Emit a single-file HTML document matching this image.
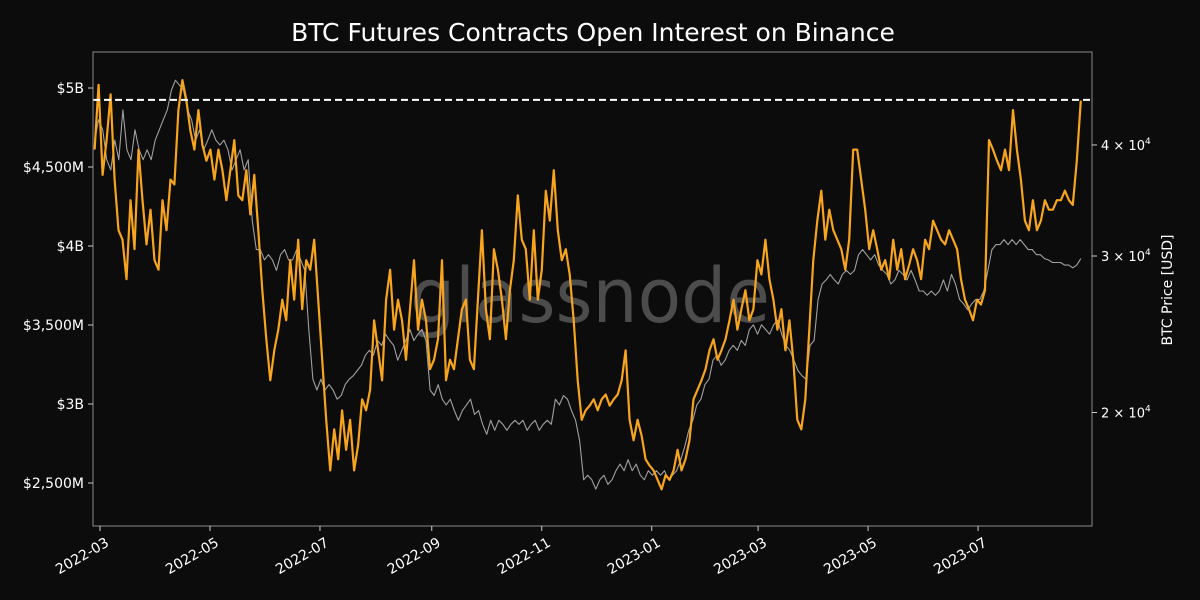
<!DOCTYPE html>
<html><head><meta charset="utf-8">
<style>
html,body{margin:0;padding:0;background:#0c0c0c;}
svg{display:block;font-family:"DejaVu Sans","Liberation Sans",sans-serif;}
</style></head>
<body>
<svg id="chart" width="1200" height="600" viewBox="0 0 1200 600" xmlns="http://www.w3.org/2000/svg">
<rect width="1200" height="600" fill="#0c0c0c"/>
<text x="593" y="41" fill="#ffffff" font-size="25" text-anchor="middle">BTC Futures Contracts Open Interest on Binance</text>
<text x="590" y="322" fill="#4c4c4c" font-size="76" text-anchor="middle" textLength="360" lengthAdjust="spacingAndGlyphs">glassnode</text>
<g id="layer"></g>
<rect x="93" y="52" width="999" height="474" fill="none" stroke="#8a8a8a" stroke-width="1"/>
<text transform="translate(1172,290) rotate(-90)" fill="#ffffff" font-size="14" text-anchor="middle">BTC Price [USD]</text>
</svg>
<script>
const startDate = '2022-02-26';
const endDate = '2023-08-27';
const oiValues = [4610,5020,4450,4670,4960,4420,4100,4040,3790,4290,3980,4610,4290,4010,4230,3910,3850,4290,4100,4420,4390,4860,5050,4920,4730,4610,4860,4640,4540,4610,4420,4610,4480,4290,4480,4670,4320,4290,4480,4200,4450,4100,3720,3410,3150,3340,3470,3660,3530,3910,3660,4040,3600,3910,3850,4040,3660,3280,2900,2580,2840,2650,2960,2710,2900,2580,2740,3030,2960,3090,3530,3340,3150,3660,3850,3470,3660,3530,3280,3600,3910,3470,3660,3530,3220,3280,3410,3910,3150,3280,3220,3410,3600,3660,3280,3220,3660,4100,3600,3410,3980,3850,3660,3410,3720,3910,4320,4040,3980,3660,4100,3660,3850,4350,4160,4480,4100,3910,3980,3820,3530,3150,2900,2960,2990,3030,2960,3030,3060,2990,3030,3060,3150,3340,2900,2770,2900,2800,2650,2610,2580,2520,2460,2550,2520,2580,2710,2580,2650,2770,3030,3090,3150,3220,3340,3410,3280,3340,3410,3530,3660,3470,3600,3720,3530,3600,3910,3820,4040,3790,3660,3470,3600,3340,3530,3280,2900,2840,3030,3470,3910,4160,4350,4040,4230,4100,4040,3980,3850,4040,4610,4610,4420,4230,3980,4100,3980,3850,3910,3790,4040,3850,3980,3790,3880,3980,3910,3790,4040,3980,4160,4100,4040,4010,4100,4040,3980,3790,3660,3600,3530,3660,3630,3720,4670,4610,4540,4480,4610,4480,4860,4610,4420,4160,4100,4290,4100,4160,4290,4230,4230,4290,4290,4350,4290,4260,4540,4920];
const priceValues = [40500,42700,41600,38500,37500,40500,38500,43800,39500,38500,41600,39500,38500,39500,38500,40500,41600,42700,43800,46100,47300,46700,46100,43800,42700,40500,41600,39500,40500,41600,40500,40000,40500,39500,37500,38500,39500,37500,38500,32900,30500,30500,29700,30100,29700,28900,30100,30500,29700,29700,30500,29700,28900,24800,21800,21200,21800,21200,21500,21200,20700,20900,21500,21800,22000,22300,22600,23200,23500,23200,24100,23800,24500,24100,23800,22900,23500,24100,24800,24100,24500,24800,24100,21200,20900,21500,20700,20400,20700,20100,19600,20100,20400,20700,19900,20100,19400,18900,19600,19100,19600,19400,19100,19400,19600,19400,19600,19100,19400,19600,19100,19400,19600,19400,20700,20400,20900,20700,20100,19600,18600,16800,17000,16800,16400,16800,17000,16600,16800,17200,17500,17200,17700,17200,17500,17000,16800,17200,17000,17200,17000,17200,16800,17000,17200,17700,18300,19100,19600,20400,20700,21500,21800,22900,23200,22600,22900,23500,23800,23500,24100,23800,24800,25100,24500,25100,24800,24500,25100,25400,24500,23800,23500,22900,22300,22000,21800,23800,24100,26800,27900,28200,28600,28200,27900,28600,28900,28600,28900,30100,30500,30100,29700,30100,29300,28900,28600,27900,28200,28900,28600,28200,28900,28200,27400,27400,27100,27400,27100,27400,28200,27400,28600,27900,26800,26500,26100,26500,26800,26800,27400,28900,30500,30900,30900,31300,30900,31300,30900,31300,30900,30500,30500,30100,30100,29800,29700,29500,29500,29500,29300,29300,29100,29300,29800];
const leftTickValues = [5000,4500,4000,3500,3000,2500];
const leftTickLabels = ['$5B','$4,500M','$4B','$3,500M','$3B','$2,500M'];
const rightTickValues = [40000,30000,20000];
const rightTickMant = ['4','3','2'];
const xTickDates = ['2022-03-01','2022-05-01','2022-07-01','2022-09-01','2022-11-01','2023-01-01','2023-03-01','2023-05-01','2023-07-01'];
const xTickLabels = ['2022-03','2022-05','2022-07','2022-09','2022-11','2023-01','2023-03','2023-05','2023-07'];
const athValue = 4925;

const NS='http://www.w3.org/2000/svg';
const DAY=86400000;
const t0=Date.parse('2022-03-01');
function xDate(ms){return 100+(ms-t0)/DAY*1.803;}
function yOI(v){return 88+(5000-v)/500*79;}
function yPrice(p){return 256-386*Math.log(p/30000);}
const layer=document.getElementById('layer');
const svg=document.getElementById('chart');
function mk(tag,attrs,parent){const e=document.createElementNS(NS,tag);for(const k in attrs)e.setAttribute(k,attrs[k]);(parent||layer).appendChild(e);return e;}
function seriesPath(vals,yf){
  const s=Date.parse(startDate),e=Date.parse(endDate);
  return vals.map((v,i)=>{const t=s+(e-s)*i/(vals.length-1);return (i?'L':'M')+xDate(t).toFixed(1)+','+yf(v).toFixed(1);}).join('');
}
const pp=mk('path',{d:seriesPath(priceValues,yPrice),fill:'none',stroke:'#a0a0a0','stroke-width':1.1,'stroke-linejoin':'round'});


const op=mk('path',{d:seriesPath(oiValues,yOI),fill:'none',stroke:'#f7a520','stroke-width':2.2,'stroke-linejoin':'round'});


const ath=mk('line',{x1:93,x2:1092,y1:yOI(athValue),y2:yOI(athValue),stroke:'#ffffff','stroke-width':2,'stroke-dasharray':'7,4'});


leftTickValues.forEach((v,i)=>{
  const y=yOI(v);
  const tk=mk('line',{x1:88,x2:93,y1:y,y2:y,stroke:'#ccc'},svg);
  
  
  const t=mk('text',{x:84,y:y+5,fill:'#fff','font-size':14,'text-anchor':'end'},svg);
  t.textContent=leftTickLabels[i];
  
  
});
rightTickValues.forEach((v,i)=>{
  const y=yPrice(v);
  const tk=mk('line',{x1:1092,x2:1097,y1:y,y2:y,stroke:'#ccc'},svg);
  
  
  const t=mk('text',{x:1101,y:y+5,fill:'#fff','font-size':13},svg);
  t.innerHTML=rightTickMant[i]+' × 10<tspan dy="-6" font-size="9">4</tspan>';
  
  
});
xTickDates.forEach((d,i)=>{
  const x=xDate(Date.parse(d));
  const tk=mk('line',{x1:x,x2:x,y1:526,y2:531,stroke:'#ccc'},svg);
  
  
  const t=mk('text',{transform:'translate('+(x+5)+',537) rotate(-30)',fill:'#fff','font-size':14,'text-anchor':'end','dominant-baseline':'hanging'},svg);
  t.textContent=xTickLabels[i];
  
  
});
</script>
</body></html>
